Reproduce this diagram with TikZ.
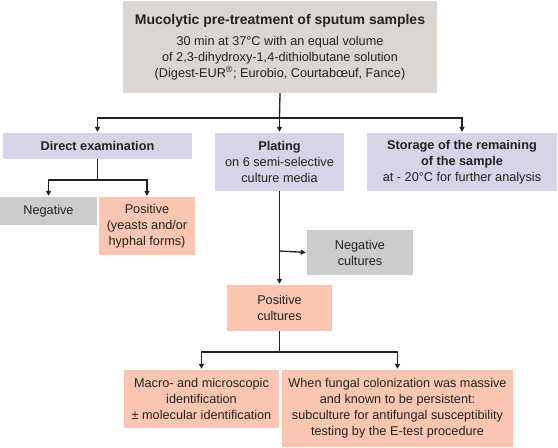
\documentclass[tikz,border=0pt]{standalone}
\usepackage{fontspec}
\setmainfont{Liberation Sans}
\usetikzlibrary{arrows.meta}
\definecolor{beige}{HTML}{DBD6D2}
\definecolor{lav}{HTML}{D6D4E7}
\definecolor{greybox}{HTML}{CCCCCC}
\definecolor{salmon}{HTML}{FAC6B1}
\definecolor{ink}{HTML}{222222}
\tikzset{
  box/.style={inner sep=0pt, align=center, font=\fontsize{12.7}{16}\selectfont, text=ink},
  conn/.style={draw=ink, line width=1.3pt},
  arr/.style={conn, -{Triangle[length=5pt,width=5pt]}, shorten >=1pt},
}
\begin{document}
\begin{tikzpicture}[x=1pt,y=-1pt]
\useasboundingbox[fill=white] (0,0) rectangle (558,448);
\node[box, fill=beige, minimum width=314pt, minimum height=92pt] (top) at (280,47)
  {\textbf{\fontsize{14}{16}\selectfont Mucolytic pre-treatment of sputum samples}\\[5pt]
   30 min at 37°C with an equal volume\\
   of 2,3-dihydroxy-1,4-dithiolbutane solution\\
   (Digest-EUR\textsuperscript{®}; Eurobio, Courtabœuf, Fance)};
\node[box, fill=lav, minimum width=189pt, minimum height=26pt] (D) at (97.5,146)
  {\textbf{Direct examination}};
\node[box, fill=lav, minimum width=129pt, minimum height=58pt] (P) at (279.5,162)
  {\textbf{Plating}\\on 6 semi-selective\\culture media};
\node[box, fill=lav, minimum width=190pt, minimum height=58pt] (S) at (462,162)
  {\textbf{Storage of the remaining}\\\textbf{of the sample}\\at - 20°C for further analysis};
\node[box, fill=greybox, minimum width=97pt, minimum height=28pt] (N) at (48.5,211)
  {Negative};
\node[box, fill=salmon, minimum width=96pt, minimum height=58pt] (Pos) at (147,226)
  {Positive\\(yeasts and/or\\hyphal forms)};
\node[box, fill=greybox, minimum width=106pt, minimum height=45pt] (NC) at (360,252.5)
  {Negative\\cultures};
\node[box, fill=salmon, minimum width=105pt, minimum height=46pt] (PC) at (279.5,308)
  {Positive\\cultures};
\node[box, fill=salmon, minimum width=155pt, minimum height=58pt] (BL) at (201.5,399)
  {Macro- and microscopic\\identification\\± molecular identification};
\node[box, fill=salmon, minimum width=231pt, minimum height=77pt] (BR) at (397.5,408.5)
  {When fungal colonization was massive\\and known to be persistent:\\subculture for antifungal susceptibility\\testing by the E-test procedure};
% connectors
\coordinate (j1) at (279.5,118);
\draw[conn] (top.south) -- (j1);
\draw[arr] (j1) -| (D.north);
\draw[arr] (j1) -| (S.north);
\draw[arr] (j1) -- (P.north);
\coordinate (j2) at (97.5,180);
\draw[conn] (D.south) -- (j2);
\draw[arr] (j2) -| (N.north);
\draw[arr] (j2) -| (Pos.north);
\draw[arr] (P.south) -- (PC.north);
\coordinate (j3) at (279.5,251);
\draw[arr] (j3) -- (NC.west);
\coordinate (j4) at (279.5,352);
\draw[conn] (PC.south) -- (j4);
\draw[arr] (j4) -| (BL.north);
\draw[arr] (j4) -| (BR.north);
\end{tikzpicture}
\end{document}
